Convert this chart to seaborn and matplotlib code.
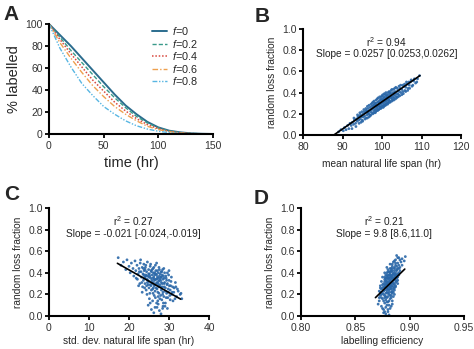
import numpy as np
import matplotlib
matplotlib.use("Agg")
import matplotlib.pyplot as plt
import seaborn as sns

# ---------------- data ----------------
# Panel A: percent of cells still labelled over time, one curve per random-loss fraction f
time_hr = [0, 10, 20, 30, 40, 50, 60, 70, 80, 90, 100, 110, 120, 130, 140, 150]
f_labels = ["0", "0.2", "0.4", "0.6", "0.8"]
labelled_f0 = [100, 90, 80, 69, 58, 47, 36, 26, 18, 11, 6.0, 3.0, 1.5, 0.6, 0.2, 0]
labelled_f02 = [100, 88, 76, 65, 54, 43, 33, 24, 16, 10, 5.5, 2.8, 1.3, 0.5, 0.2, 0]
labelled_f04 = [100, 86, 73, 61, 49, 39, 29, 21, 14, 8.5, 4.8, 2.4, 1.1, 0.4, 0.1, 0]
labelled_f06 = [100, 83, 69, 56, 44, 34, 25, 18, 12, 7.0, 4.0, 2.0, 0.9, 0.3, 0.1, 0]
labelled_f08 = [100, 78, 61, 46, 35, 25, 18, 12, 7.5, 4.5, 2.5, 1.2, 0.5, 0.2, 0.1, 0]

# Panel B: (mean natural life span [hr], random loss fraction)
points_b = [
    (89.0, 0.03), (89.6, 0.05), (90.2, 0.04), (90.5, 0.07), (90.9, 0.05), (91.3, 0.09),
    (91.6, 0.06), (91.9, 0.11), (92.2, 0.09), (92.5, 0.12), (92.8, 0.10), (93.0, 0.14),
    (93.3, 0.11), (93.5, 0.15), (93.7, 0.13), (93.9, 0.17), (94.1, 0.14), (94.3, 0.18),
    (94.5, 0.15), (94.6, 0.19), (94.8, 0.17), (95.0, 0.14), (95.2, 0.20), (95.3, 0.17),
    (95.5, 0.22), (95.6, 0.18), (95.8, 0.21), (96.0, 0.16), (96.1, 0.23), (96.2, 0.19),
    (96.4, 0.22), (96.5, 0.25), (96.6, 0.20), (96.8, 0.23), (96.9, 0.19), (97.0, 0.26),
    (97.1, 0.22), (97.3, 0.24), (97.4, 0.27), (97.5, 0.21), (97.6, 0.25), (97.8, 0.28),
    (97.9, 0.23), (98.0, 0.26), (98.1, 0.29), (98.2, 0.24), (98.3, 0.27), (98.4, 0.22),
    (98.5, 0.30), (98.6, 0.25), (98.7, 0.28), (98.8, 0.26), (98.9, 0.31), (99.0, 0.27),
    (99.1, 0.24), (99.2, 0.29), (99.3, 0.32), (99.4, 0.27), (99.5, 0.30), (99.6, 0.26),
    (99.7, 0.33), (99.8, 0.29), (99.9, 0.31), (100.0, 0.27), (100.1, 0.34), (100.2, 0.30),
    (100.3, 0.32), (100.4, 0.28), (100.5, 0.35), (100.6, 0.31), (100.7, 0.33), (100.8, 0.29),
    (100.9, 0.36), (101.0, 0.32), (101.1, 0.34), (101.2, 0.30), (101.3, 0.37), (101.4, 0.33),
    (101.5, 0.35), (101.6, 0.31), (101.7, 0.38), (101.8, 0.34), (101.9, 0.36), (102.0, 0.32),
    (102.2, 0.39), (102.3, 0.35), (102.4, 0.37), (102.6, 0.34), (102.7, 0.40), (102.8, 0.36),
    (103.0, 0.38), (103.1, 0.35), (103.3, 0.41), (103.4, 0.37), (103.6, 0.39), (103.8, 0.36),
    (104.0, 0.42), (104.2, 0.38), (104.4, 0.41), (104.6, 0.44), (104.8, 0.40), (105.0, 0.43),
    (105.3, 0.41), (105.5, 0.46), (105.8, 0.42), (106.0, 0.45), (106.3, 0.48), (106.6, 0.44),
    (106.9, 0.47), (107.2, 0.50), (107.6, 0.46), (108.0, 0.51), (108.5, 0.49), (109.0, 0.53),
    (109.5, 0.56),
    (92.4, 0.06), (92.9, 0.16), (93.4, 0.08), (93.8, 0.19), (94.2, 0.11), (94.4, 0.21),
    (94.7, 0.12), (94.9, 0.22), (95.1, 0.13), (95.4, 0.24), (95.7, 0.15), (95.9, 0.25),
    (96.0, 0.23), (96.3, 0.16), (96.3, 0.27), (96.7, 0.17), (96.7, 0.28), (97.0, 0.18),
    (97.2, 0.29), (97.2, 0.19), (97.5, 0.30), (97.7, 0.20), (97.7, 0.31), (98.0, 0.21),
    (98.0, 0.32), (98.2, 0.30), (98.3, 0.21), (98.5, 0.33), (98.6, 0.23), (98.8, 0.34),
    (98.9, 0.23), (99.0, 0.35), (99.1, 0.31), (99.2, 0.24), (99.4, 0.36), (99.5, 0.25),
    (99.6, 0.34), (99.7, 0.25), (99.8, 0.36), (99.9, 0.26), (100.0, 0.37), (100.1, 0.27),
    (100.2, 0.38), (100.3, 0.26), (100.4, 0.36), (100.5, 0.27), (100.6, 0.39), (100.7, 0.28),
    (100.8, 0.38), (100.9, 0.28), (101.0, 0.40), (101.1, 0.29), (101.2, 0.38), (101.4, 0.29),
    (101.5, 0.40), (101.6, 0.30), (101.8, 0.41), (101.9, 0.31), (102.0, 0.40), (102.1, 0.31),
    (102.3, 0.42), (102.5, 0.32), (102.5, 0.43), (102.7, 0.33), (102.9, 0.43), (103.0, 0.33),
    (103.2, 0.44), (103.4, 0.34), (103.5, 0.45), (103.7, 0.35), (103.9, 0.44), (104.1, 0.36),
    (104.3, 0.46), (104.5, 0.37), (104.7, 0.47), (105.0, 0.38), (105.2, 0.47), (105.4, 0.39),
    (105.7, 0.48), (106.0, 0.41), (106.2, 0.50), (106.5, 0.42), (106.8, 0.50), (107.0, 0.44),
    (107.4, 0.52), (107.8, 0.47), (108.2, 0.53), (108.8, 0.50), (96.5, 0.21), (97.9, 0.27),
    (99.3, 0.28), (100.2, 0.33), (101.3, 0.35), (102.2, 0.36), (103.1, 0.40), (104.0, 0.39),
    (98.4, 0.28), (99.6, 0.30), (100.8, 0.32), (101.7, 0.33),
]

# Panel C: random loss fraction vs std. dev. of natural life span (hr)
sd_span = [17.3, 18.0, 18.6, 19.2, 19.5, 20.0, 20.3, 20.6, 21.0, 21.2, 21.5, 21.7, 22.0, 22.1,
           22.3, 22.5, 22.7, 22.8, 23.0, 23.1, 23.3, 23.4, 23.5, 23.6, 23.7, 23.8, 23.9, 24.0,
           24.1, 24.2, 24.3, 24.4, 24.5, 24.6, 24.7, 24.8, 24.9, 25.0, 25.1, 25.2, 25.3, 25.4,
           25.5, 25.6, 25.7, 25.8, 25.9, 26.0, 26.1, 26.2, 26.3, 26.4, 26.5, 26.6, 26.7, 26.8,
           26.9, 27.0, 27.1, 27.2, 27.3, 27.4, 27.5, 27.6, 27.7, 27.8, 27.9, 28.0, 28.1, 28.2,
           28.3, 28.4, 28.5, 28.6, 28.7, 28.8, 28.9, 29.0, 29.2, 29.3, 29.5, 29.6, 29.8, 30.0,
           30.2, 30.4, 30.6, 30.8, 31.0, 31.3, 31.6, 31.9, 32.3, 32.8,
           24.8, 25.6, 26.2, 27.0, 27.6, 28.4, 29.0, 28.0, 26.9, 25.9,
           25.2, 25.8, 26.3, 26.7, 27.2, 27.6, 26.1, 25.5, 27.9, 24.6, 26.5, 27.3, 28.3, 28.8,
           24.0, 23.2, 29.4, 30.3, 24.4, 25.0]
loss_c = [0.54, 0.47, 0.50, 0.43, 0.52, 0.46, 0.40, 0.49, 0.44, 0.37, 0.51, 0.42, 0.47, 0.34,
          0.39, 0.44, 0.30, 0.49, 0.41, 0.36, 0.45, 0.27, 0.39, 0.33, 0.48, 0.42, 0.36, 0.30,
          0.45, 0.38, 0.24, 0.41, 0.34, 0.50, 0.37, 0.29, 0.43, 0.32, 0.39, 0.21, 0.46, 0.35,
          0.28, 0.41, 0.33, 0.38, 0.25, 0.44, 0.31, 0.36, 0.19, 0.40, 0.29, 0.47, 0.34, 0.26,
          0.38, 0.31, 0.42, 0.22, 0.35, 0.28, 0.45, 0.33, 0.16, 0.39, 0.27, 0.36, 0.24, 0.41,
          0.30, 0.20, 0.34, 0.12, 0.44, 0.27, 0.31, 0.23, 0.37, 0.17, 0.29, 0.40, 0.25, 0.33,
          0.19, 0.28, 0.36, 0.22, 0.14, 0.26, 0.31, 0.18, 0.23, 0.20,
          0.10, 0.06, 0.03, 0.08, 0.05, 0.07, 0.09, 0.02, 0.12, 0.14,
          0.37, 0.30, 0.34, 0.39, 0.30, 0.37, 0.26, 0.42, 0.33, 0.31, 0.23, 0.18, 0.38, 0.35,
          0.35, 0.31, 0.33, 0.24, 0.28, 0.26]
# denser core of panel C as (sd, loss) pairs
core_c = [
    (21.8, 0.35), (22.4, 0.28), (22.9, 0.52), (23.3, 0.22), (23.6, 0.44), (23.9, 0.26),
    (24.2, 0.47), (24.5, 0.20), (24.7, 0.33), (24.9, 0.39), (25.1, 0.16), (25.3, 0.29),
    (25.4, 0.48), (25.6, 0.24), (25.8, 0.43), (25.9, 0.35), (26.0, 0.21), (26.2, 0.45),
    (26.3, 0.28), (26.4, 0.33), (26.6, 0.17), (26.7, 0.42), (26.8, 0.30), (26.9, 0.49),
    (27.0, 0.25), (27.1, 0.36), (27.2, 0.14), (27.3, 0.40), (27.4, 0.32), (27.5, 0.21),
    (27.6, 0.43), (27.7, 0.29), (27.8, 0.35), (27.9, 0.19), (28.0, 0.41), (28.1, 0.31),
    (28.2, 0.15), (28.3, 0.27), (28.4, 0.43), (28.5, 0.22), (28.6, 0.37), (28.7, 0.18),
    (28.8, 0.30), (28.9, 0.40), (29.1, 0.26), (29.1, 0.12), (29.3, 0.35), (29.4, 0.21),
    (29.6, 0.30), (29.7, 0.17), (29.9, 0.38), (30.1, 0.28), (30.3, 0.15), (30.5, 0.32),
    (30.7, 0.20), (30.9, 0.27), (31.2, 0.22), (31.5, 0.16), (25.0, 0.36), (25.7, 0.31),
    (26.4, 0.38), (26.1, 0.40), (27.0, 0.34), (27.5, 0.27), (28.1, 0.36), (24.3, 0.37),
    (23.7, 0.38), (22.6, 0.41), (24.0, 0.43), (29.8, 0.22), (28.5, 0.09), (27.3, 0.11),
    (26.5, 0.08), (29.6, 0.07), (25.3, 0.12), (31.7, 0.27), (30.0, 0.42), (32.1, 0.25),
    (33.0, 0.21), (33.2, 0.16),
]

# Panel D: random loss fraction vs labelling efficiency
efficiency = [0.878, 0.880, 0.876, 0.882, 0.874, 0.879, 0.884, 0.877, 0.872, 0.881, 0.875, 0.879,
              0.883, 0.873, 0.877, 0.881, 0.886, 0.875, 0.879, 0.883, 0.872, 0.877, 0.881, 0.885,
              0.874, 0.879, 0.883, 0.876, 0.880, 0.887, 0.873, 0.878, 0.882, 0.885, 0.876, 0.880,
              0.884, 0.888, 0.874, 0.878, 0.882, 0.886, 0.877, 0.881, 0.884, 0.889, 0.875, 0.879,
              0.883, 0.887, 0.878, 0.882, 0.885, 0.890, 0.877, 0.881, 0.884, 0.888, 0.880, 0.883,
              0.886, 0.891, 0.879, 0.884, 0.887, 0.882, 0.889, 0.885, 0.892, 0.887, 0.890, 0.888,
              0.893,
              0.880, 0.882, 0.884, 0.879, 0.881, 0.883, 0.885, 0.880, 0.882, 0.886, 0.884, 0.878,
              0.876, 0.878, 0.880, 0.882, 0.884, 0.886, 0.888, 0.887, 0.889, 0.883, 0.881, 0.879,
              0.877, 0.875, 0.873, 0.876, 0.878, 0.880, 0.882, 0.885, 0.886, 0.889, 0.890, 0.891,
              0.893, 0.895, 0.896, 0.886, 0.883, 0.879, 0.877, 0.874, 0.872, 0.871, 0.877, 0.881,
              0.875, 0.883]
loss_d = [0.02, 0.04, 0.06, 0.07, 0.09, 0.10, 0.11, 0.12, 0.14, 0.14, 0.16, 0.17, 0.17, 0.19,
          0.19, 0.20, 0.20, 0.21, 0.22, 0.22, 0.23, 0.24, 0.24, 0.25, 0.25, 0.26, 0.26, 0.27,
          0.28, 0.27, 0.28, 0.29, 0.29, 0.30, 0.30, 0.31, 0.31, 0.32, 0.32, 0.33, 0.33, 0.34,
          0.34, 0.35, 0.35, 0.36, 0.36, 0.37, 0.37, 0.38, 0.38, 0.39, 0.39, 0.40, 0.40, 0.41,
          0.42, 0.42, 0.43, 0.44, 0.44, 0.45, 0.45, 0.46, 0.47, 0.48, 0.49, 0.50, 0.50, 0.52,
          0.54, 0.56, 0.53,
          0.25, 0.27, 0.28, 0.30, 0.32, 0.30, 0.33, 0.36, 0.36, 0.37, 0.38, 0.35, 0.23, 0.21,
          0.18, 0.19, 0.23, 0.29, 0.35, 0.40, 0.44, 0.41, 0.38, 0.32, 0.29, 0.26, 0.22, 0.14,
          0.15, 0.13, 0.16, 0.18, 0.24, 0.30, 0.38, 0.42, 0.47, 0.51, 0.55, 0.42, 0.34, 0.40,
          0.36, 0.20, 0.17, 0.11, 0.04, 0.01, 0.07, 0.09]
# denser core of panel D as (efficiency, loss) pairs
core_d = [
    (0.878, 0.18), (0.880, 0.21), (0.884, 0.21), (0.876, 0.24), (0.882, 0.25), (0.886, 0.26),
    (0.879, 0.27), (0.883, 0.28), (0.887, 0.31), (0.881, 0.29), (0.878, 0.31), (0.884, 0.32),
    (0.886, 0.35), (0.880, 0.34), (0.883, 0.36), (0.887, 0.36), (0.882, 0.38), (0.885, 0.40),
    (0.889, 0.39), (0.883, 0.42), (0.886, 0.45), (0.888, 0.46), (0.884, 0.48), (0.890, 0.47),
    (0.886, 0.51), (0.891, 0.52), (0.879, 0.24), (0.881, 0.27), (0.885, 0.27), (0.877, 0.32),
    (0.880, 0.38), (0.882, 0.41), (0.884, 0.44), (0.888, 0.38), (0.887, 0.33), (0.885, 0.22),
    (0.883, 0.19), (0.881, 0.22), (0.877, 0.17), (0.879, 0.13), (0.881, 0.10), (0.878, 0.08),
    (0.880, 0.06), (0.876, 0.03), (0.884, 0.14), (0.882, 0.31), (0.880, 0.29), (0.878, 0.26),
    (0.876, 0.20), (0.874, 0.17), (0.886, 0.39), (0.888, 0.43), (0.890, 0.44), (0.887, 0.49),
    (0.889, 0.54), (0.885, 0.35), (0.883, 0.25), (0.881, 0.35), (0.879, 0.35), (0.877, 0.27),
    (0.875, 0.29), (0.873, 0.26), (0.885, 0.30), (0.887, 0.28), (0.889, 0.33), (0.884, 0.37),
    (0.882, 0.44), (0.880, 0.41),
]

# Linear fits: r^2, slope with 95% CI, start point and x-range of the drawn line
fit_b = dict(r2="0.94", slope=0.0257, ci="[0.0253,0.0262]", x0=87.8, y0=0.0, x1=109.6)
fit_c = dict(r2="0.27", slope=-0.021, ci="[-0.024,-0.019]", x0=17.1, y0=0.488, x1=32.9)
fit_d = dict(r2="0.21", slope=9.8, ci="[8.6,11.0]", x0=0.8685, y0=0.17, x1=0.8955)

# ---------------- style ----------------
sns.set_style("ticks")
plt.rcParams["font.family"] = ["Liberation Sans", "DejaVu Sans"]
plt.rcParams["mathtext.fontset"] = "custom"
plt.rcParams["mathtext.rm"] = "Liberation Sans"
plt.rcParams["mathtext.it"] = "Liberation Sans:italic"
plt.rcParams["axes.linewidth"] = 1.5
plt.rcParams["xtick.major.width"] = 1.3
plt.rcParams["ytick.major.width"] = 1.3
plt.rcParams["xtick.major.size"] = 3
plt.rcParams["ytick.major.size"] = 3
plt.rcParams["xtick.major.pad"] = 2
plt.rcParams["ytick.major.pad"] = 1.5
plt.rcParams["xtick.color"] = "black"
plt.rcParams["ytick.color"] = "black"
plt.rcParams["xtick.labelcolor"] = "#333333"
plt.rcParams["ytick.labelcolor"] = "#333333"

W, H = 474, 349
fig = plt.figure(figsize=(W / 100, H / 100), dpi=100)


def px_axes(left, top, right, bottom):
    return fig.add_axes([left / W, 1 - bottom / H, (right - left) / W, (bottom - top) / H])


def finish(ax):
    sns.despine(ax=ax)
    ax.spines["left"].set_color("black")
    ax.spines["bottom"].set_color("black")
    ax.tick_params(labelsize=7.5)


# ---------------- Panel A ----------------
axA = px_axes(49, 24, 213, 134)
curves = [labelled_f0, labelled_f02, labelled_f04, labelled_f06, labelled_f08]
colors = ["#2b6c8e", "#3a9a8a", "#d8483e", "#eea04e", "#58b6e2"]
styles = ["-", (0, (3, 1.5)), (0, (1, 1.2)), (0, (4, 1.5, 1, 1.5)), (0, (3.5, 1.2, 1, 1.2, 1, 1.2))]
widths = [1.4, 1.0, 1.1, 1.0, 1.0]
for lab, vals, c, ls, lw in zip(f_labels, curves, colors, styles, widths):
    sns.lineplot(x=time_hr, y=vals, ax=axA, color=c, linestyle=ls, linewidth=lw,
                 label=r"$f$=" + lab)
axA.set_xlim(0, 150)
axA.set_ylim(0, 100)
axA.set_xticks([0, 50, 100, 150])
axA.set_yticks([0, 20, 40, 60, 80, 100])
axA.set_xlabel("time (hr)", fontsize=10.5, labelpad=4)
axA.set_ylabel("% labelled", fontsize=10.5, labelpad=3)
finish(axA)
axA.legend(loc="upper left", bbox_to_anchor=(0.6, 1.03), frameon=False, fontsize=7.8,
           handlelength=1.4, handletextpad=0.45, labelspacing=0.05, borderaxespad=0)


# ---------------- Panels B-D ----------------
def scatter_panel(ax, xs, ys, fit, xlim, xticks, xfmt, xlabel, text_x, xpad):
    sns.scatterplot(x=list(xs), y=list(ys), ax=ax, s=4, marker="o", color="#2a67a8",
                    edgecolor="none", alpha=0.9)
    lx = np.array([fit["x0"], fit["x1"]])
    ly = fit["y0"] + fit["slope"] * (lx - fit["x0"])
    sns.lineplot(x=lx, y=ly, ax=ax, color="black", linewidth=1.2)
    ax.set_xlim(*xlim)
    ax.set_ylim(0, 1.0)
    ax.set_xticks(xticks)
    ax.set_xticklabels([xfmt.format(v) for v in xticks])
    ax.set_yticks([0, 0.2, 0.4, 0.6, 0.8, 1.0])
    ax.set_yticklabels(["0.0", "0.2", "0.4", "0.6", "0.8", "1.0"])
    ax.set_xlabel(xlabel, fontsize=7.3, labelpad=xpad)
    ax.set_ylabel("random loss fraction", fontsize=7.3, labelpad=4)
    ax.text(text_x, 0.875, r"r$^2$ = " + fit["r2"], transform=ax.transAxes, ha="center",
            va="center", fontsize=7.3, color="#222222")
    ax.text(text_x, 0.76, "Slope = {} {}".format(fit["slope"], fit["ci"]),
            transform=ax.transAxes, ha="center", va="center", fontsize=7.3, color="#222222")
    finish(ax)


mean_span, loss_b = zip(*points_b)
sd_all = list(sd_span) + [p[0] for p in core_c]
loss_c_all = list(loss_c) + [p[1] for p in core_c]
eff_all = list(efficiency) + [p[0] for p in core_d]
loss_d_all = list(loss_d) + [p[1] for p in core_d]

axB = px_axes(303, 29, 461, 135)
scatter_panel(axB, mean_span, loss_b, fit_b, (80, 120), [80, 90, 100, 110, 120], "{:d}",
              "mean natural life span (hr)", 0.53, 5)

axC = px_axes(49, 208, 209, 316)
scatter_panel(axC, sd_all, loss_c_all, fit_c, (0, 40), [0, 10, 20, 30, 40], "{:d}",
              "std. dev. natural life span (hr)", 0.525, 2.5)

axD = px_axes(301, 208, 464, 316)
scatter_panel(axD, eff_all, loss_d_all, fit_d, (0.80, 0.95), [0.80, 0.85, 0.90, 0.95], "{:.2f}",
              "labelling efficiency", 0.51, 2.5)

# panel letters
for letter, (x, y) in zip("ABCD", [(3, 5), (255, 7), (4, 185), (254, 189)]):
    fig.text(x / W, 1 - y / H, letter, fontsize=15, fontweight="bold", va="top", ha="left")

fig.savefig("out.png", dpi=100)
